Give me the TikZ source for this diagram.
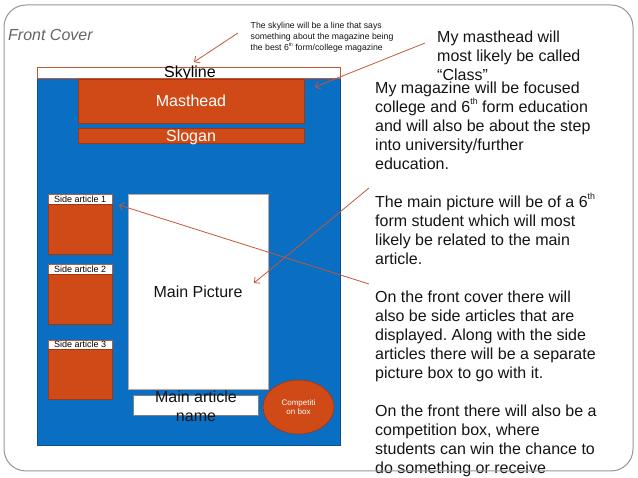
\documentclass[tikz,border=0pt]{standalone}
\usepackage{fontspec}
\setmainfont{Liberation Sans}
\usetikzlibrary{arrows.meta,shapes.geometric}
\definecolor{cblue}{RGB}{10,110,194}
\definecolor{corange}{RGB}{208,74,23}
\definecolor{carrow}{RGB}{196,86,56}
\definecolor{cframe}{RGB}{150,150,150}
\definecolor{ctext}{RGB}{20,20,20}
\definecolor{cgraytext}{RGB}{100,100,100}
\newcommand{\smallsup}[1]{\raisebox{0.45em}{\scalebox{0.55}{#1}}}
\frenchspacing
\begin{document}
\begin{tikzpicture}[x=1pt,y=-1pt,
  boxbase/.style={rectangle, inner sep=0pt, outer sep=0pt, anchor=north west},
  bluebox/.style={boxbase, fill=cblue, draw=cblue!75!black, line width=0.8pt},
  orangebox/.style={boxbase, fill=corange, draw=corange!75!black, line width=0.6pt},
  whitebox/.style={boxbase, fill=white, draw=gray!70, line width=0.6pt},
  striplabel/.style={boxbase, fill=white, draw=corange!60!gray, line width=0.5pt,
    font=\fontsize{9}{10}\selectfont, text=black},
  bigtext/.style={inner sep=0pt, font=\fontsize{16}{19}\selectfont, text=ctext},
  whitetext/.style={bigtext, text=white},
  notetext/.style={inner sep=0pt, align=left, anchor=north west, text=ctext},
  notearrow/.style={draw=carrow, line width=0.8pt, -{Straight Barb[length=4pt,width=8pt]}},
]
\useasboundingbox (0,0) rectangle (638,478);

% title
\node[inner sep=0pt, anchor=base west, font=\fontsize{16}{19}\selectfont\itshape, text=cgraytext] (title) at (8,41) {Front Cover};

% cover mock-up
\node[bluebox, minimum width=303pt, minimum height=367pt] (cover) at (37,78) {};
\node[boxbase, fill=white, draw=carrow, line width=0.6pt, minimum width=303pt, minimum height=11pt] (skyline) at (37,67) {};
\node[bigtext, text=black, anchor=base] (skylinetext) at (190,78) {Skyline};
\node[orangebox, minimum width=226pt, minimum height=44pt] (masthead) at (78,79) {};
\node[whitetext, anchor=base] (mastheadtext) at (191,107) {Masthead};
\node[orangebox, minimum width=226pt, minimum height=15pt] (slogan) at (78,128) {};
\node[whitetext, anchor=base] (slogantext) at (191,141.5) {Slogan};

% side articles
\node[striplabel, minimum width=64.5pt, minimum height=10pt] (s1l) at (48,194) {Side article 1};
\node[orangebox, minimum width=64.5pt, minimum height=50pt] (s1) at (48,204) {};
\node[striplabel, minimum width=64.5pt, minimum height=10pt] (s2l) at (48,264) {Side article 2};
\node[orangebox, minimum width=64.5pt, minimum height=50pt] (s2) at (48,274) {};
\node[striplabel, minimum width=64.5pt, minimum height=9.5pt] (s3l) at (48,340) {Side article 3};
\node[orangebox, minimum width=64.5pt, minimum height=50pt] (s3) at (48,349.5) {};

% main picture
\node[whitebox, draw=corange!35!gray!60, minimum width=140.4pt, minimum height=195.3pt] (mainpic) at (128.3,194) {};
\node[bigtext, anchor=base] (mainpictext) at (198,297.5) {Main Picture};

% main article name
\node[whitebox, draw=gray, minimum width=125.7pt, minimum height=20pt] (article) at (133,395) {};
\node[bigtext, align=center, anchor=north] (articletext) at (196,390.8) {Main article\\name};

% competition
\node[ellipse, fill=corange, draw=corange!75!black, line width=0.6pt, inner sep=0pt,
  minimum width=71pt, minimum height=54pt, align=center, text=white,
  font=\fontsize{8}{9.5}\selectfont] (comp) at (298.5,407) {Competiti\\on box};

% notes
\node[notetext, font=\fontsize{8.7}{10.8}\selectfont] (skynote) at (250.5,22.3)
  {The skyline will be a line that says\\something about the magazine being\\the best 6\smallsup{th} form/college magazine};
\node[notetext, font=\fontsize{16}{19}\selectfont] (mastnote) at (437,30.5)
  {My masthead will\\most likely be called\\“Class”};
\node[notetext, font=\fontsize{16}{19}\selectfont] (mainnote) at (375,81.3)
  {My magazine will be focused\\college and 6\smallsup{th} form education\\and will also be about the step\\into university/further\\education.\\[19pt]
   The main picture will be of a 6\smallsup{th}\\form student which will most\\likely be related to the main\\article.\\[19pt]
   On the front cover there will\\also be side articles that are\\displayed. Along with the side\\articles there will be a separate\\picture box to go with it.\\[19pt]
   On the front there will also be a\\competition box, where\\students can win the chance to\\do something or receive};

% arrows
\coordinate (a1s) at (238,33);
\coordinate (a1e) at (194,62);
\coordinate (a2s) at (425,43);
\coordinate (a2e) at (315,87);
\coordinate (a3s) at (369,188);
\coordinate (a3e) at (254,283);
\coordinate (a4s) at (369,284);
\coordinate (a4e) at (119,205);
\draw[notearrow] (a1s) -- (a1e);
\draw[notearrow] (a2s) -- (a2e);
\draw[notearrow] (a3s) -- (a3e);
\draw[notearrow] (a4s) -- (a4e);

% slide frame
\node[boxbase, draw=cframe, line width=1pt, rounded corners=22pt,
  minimum width=629pt, minimum height=466pt] (frame) at (4,5) {};
\end{tikzpicture}
\end{document}
